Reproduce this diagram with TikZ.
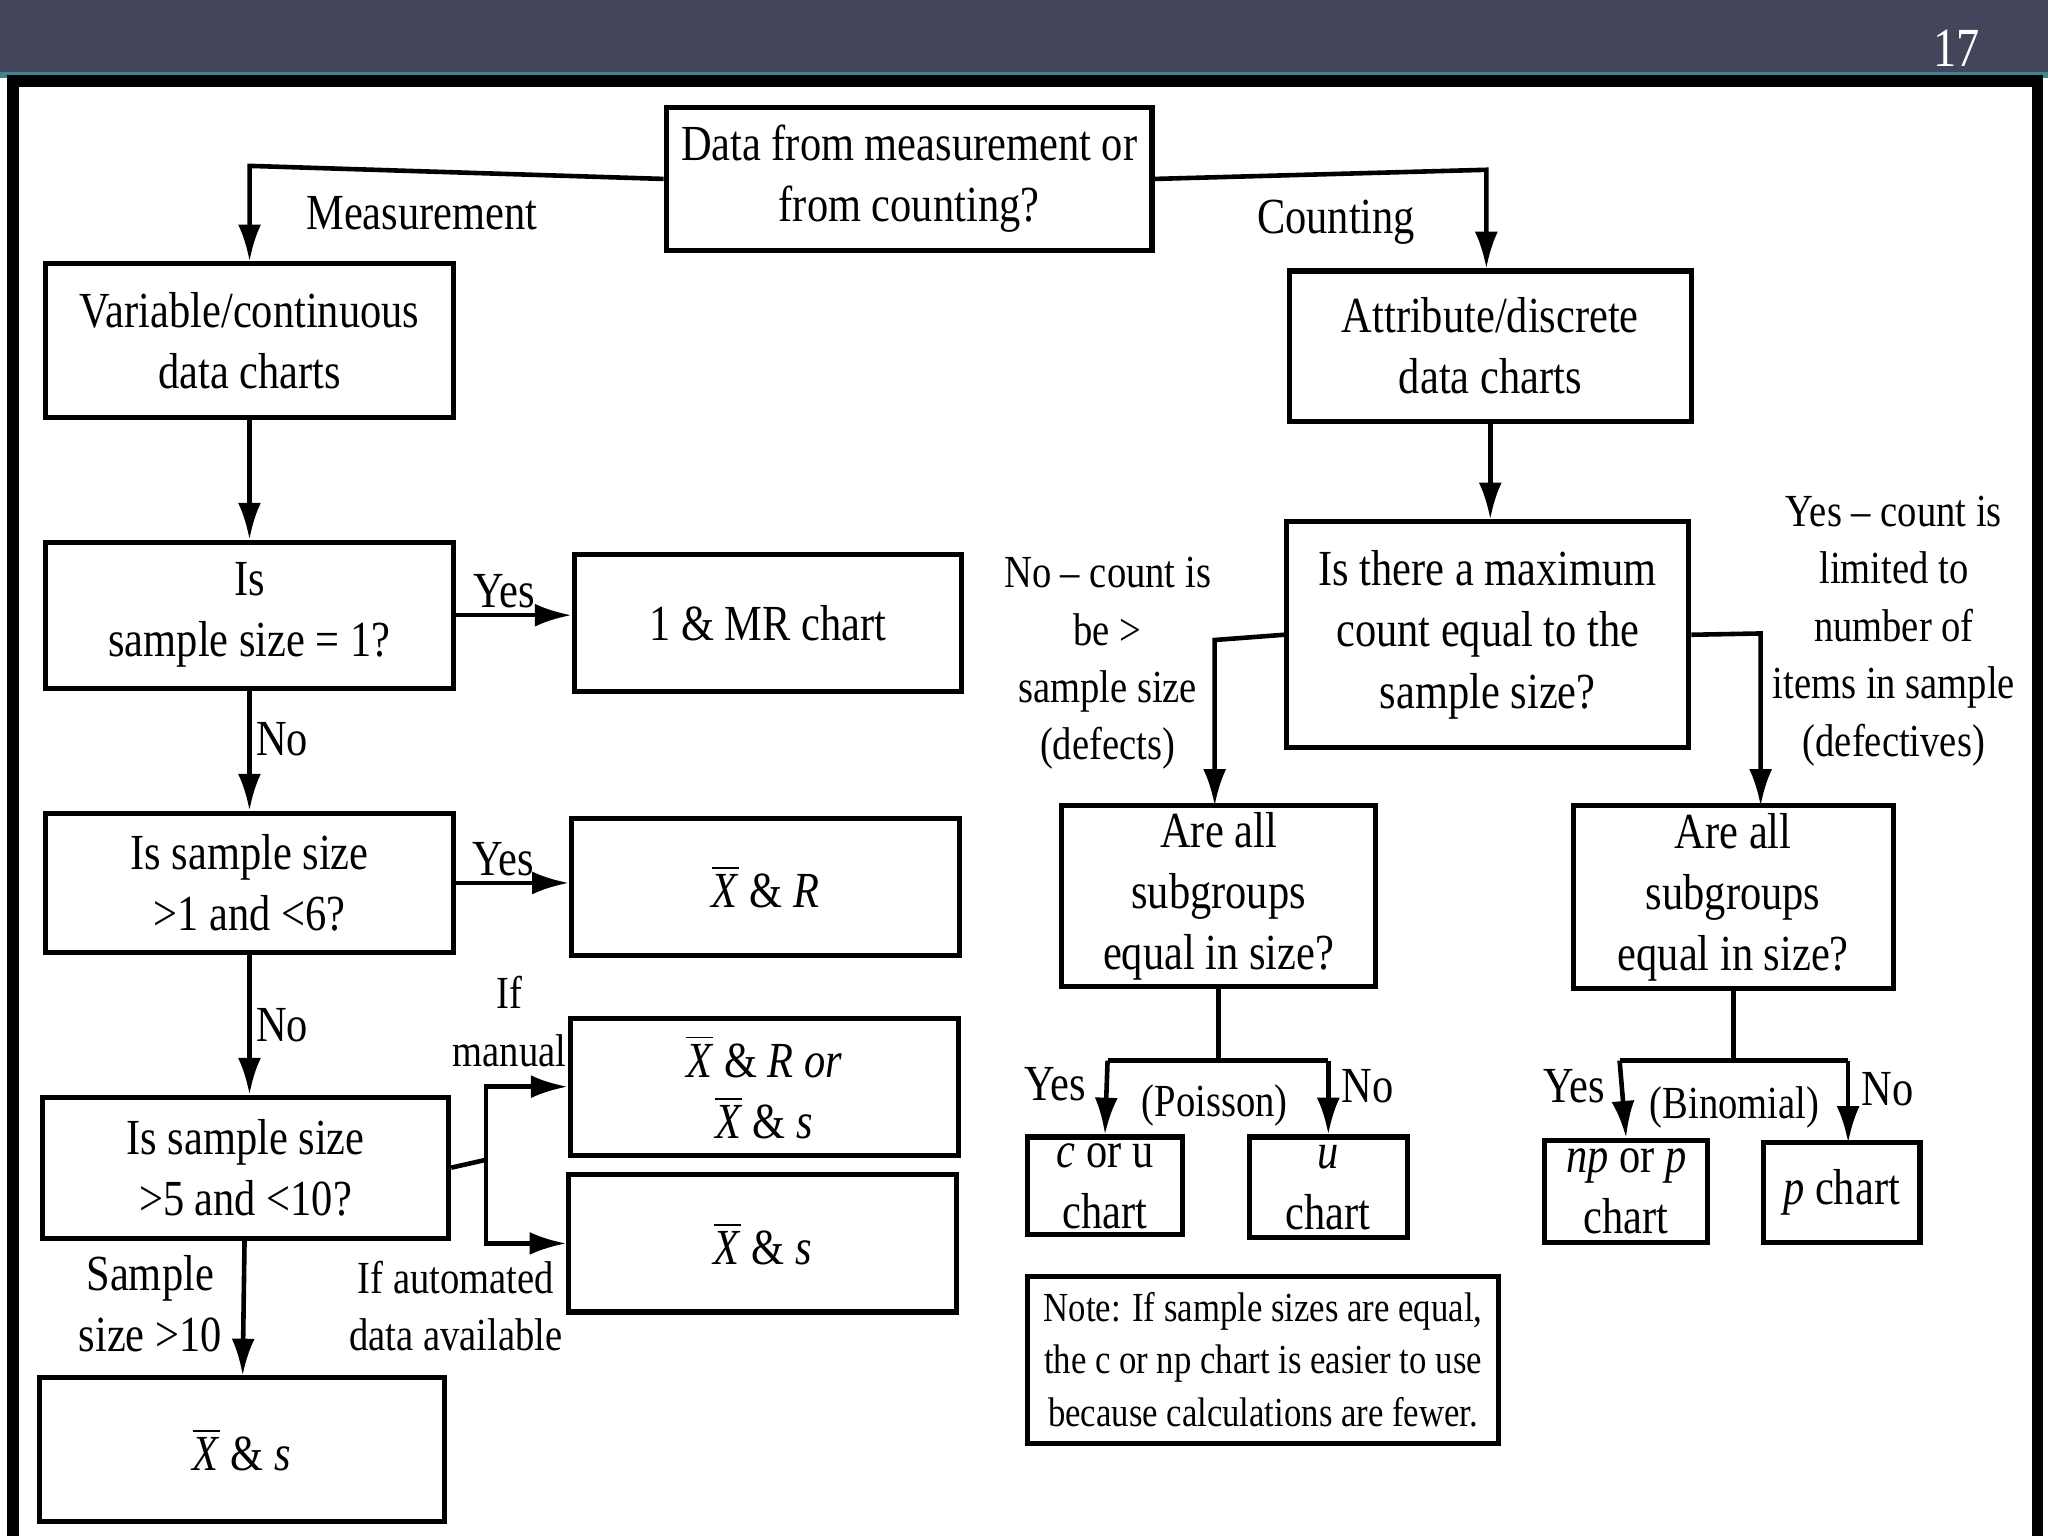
\documentclass[tikz,border=0pt]{standalone}
\usepackage{fontspec}
\setmainfont{Liberation Serif}[FakeStretch=0.84]
\usetikzlibrary{arrows.meta}
\newcommand{\xb}{$\overline{\mbox{\textit{X}}}$}
\begin{document}
\begin{tikzpicture}[x=0.01cm,y=-0.01cm,
  every node/.style={font=\fontsize{11}{13.3}\selectfont},
  box/.style={draw,line width=1.1pt,align=center,inner sep=0pt},
  lab/.style={align=center,inner sep=1pt},
  ar/.style={line width=1pt,-{Latex[length=8pt,width=5pt]}},
  ln/.style={line width=1pt}]
\useasboundingbox (0,0) rectangle (1568,1176);
\fill[fill={rgb,255:red,67;green,70;blue,90}] (0,0) rectangle (1568,55);
\fill[fill={rgb,255:red,70;green,130;blue,140}] (0,55) rectangle (1568,60);
\node[text=white,font=\fontsize{12}{14}\selectfont] (pg) at (1498,37) {17};
\fill[white] (10,62) rectangle (1560,1176);
\draw[line width=2.5pt] (10,1176) -- (10,62) -- (1560,62) -- (1560,1176);
\newcommand{\bx}[6]{\node[box,minimum width=#4*0.01cm,minimum height=#5*0.01cm] (#1) at (#2,#3) {#6};}
\bx{top}{696}{137}{372}{109}{Data from measurement or\\from counting?}
\bx{var}{191}{261}{312}{118}{Variable/continuous\\data charts}
\bx{attr}{1141}{265}{308}{115}{Attribute/discrete\\data charts}
\bx{is1}{191}{471}{312}{112}{Is\\sample size = 1?}
\bx{mr}{588}{477}{297}{105}{1 \& MR chart}
\bx{is2}{191}{676}{312}{107}{Is sample size\\>1 and <6?}
\bx{xr}{586}{679}{297}{105}{\xb\ \& \textit{R}}
\bx{is3}{188}{894}{311}{108}{Is sample size\\>5 and <10?}
\bx{xrs}{585}{832}{297}{105}{\xb\ \& \textit{R or}\\\xb\ \& \textit{s}}
\bx{xs1}{584}{952}{297}{105}{\xb\ \& \textit{s}}
\bx{xs2}{185}{1110}{310}{110}{\xb\ \& \textit{s}}
\bx{max}{1139}{486}{308}{173}{Is there a maximum\\count equal to the\\sample size?}
\bx{sub1}{933}{686}{240}{138}{Are all\\subgroups\\equal in size?}
\bx{sub2}{1327}{687}{245}{140}{Are all\\subgroups\\equal in size?}
\bx{cu}{846}{908}{119}{75}{\textit{c} or u\\chart}
\bx{u}{1017}{909}{121}{77}{\textit{u}\\chart}
\bx{np}{1245}{912}{125}{78}{\textit{np} or \textit{p}\\chart}
\bx{p}{1410}{913}{120}{76}{\textit{p} chart}
\node[box,minimum width=3.61cm,minimum height=1.28cm,font=\fontsize{9}{11.5}\selectfont] (note) at (967,1041) {Note: If sample sizes are equal,\\the c or np chart is easier to use\\because calculations are fewer.};
\draw[ar] (top.west) -- ++(-317,-10) coordinate (c1) -- (c1 |- var.north);
\draw[ar] (top.east) -- (1138,130) coordinate (c2) -- (c2 |- attr.north);
\node[lab] (lm) at (323,163) {Measurement};
\node[lab] (lc) at (1023,170) {Counting};
\draw[ar] (var) -- (is1);
\draw[ar] (is1) -- node[lab,above,pos=0.42] (y1) {Yes} (mr.west |- is1);
\draw[ar] (is1) -- node[lab,right,pos=0.4] (n1) {No} (is2);
\draw[ar] (is2) -- node[lab,above,pos=0.42] (y2) {Yes} (xr.west |- is2);
\draw[ar] (is2) -- node[lab,right,pos=0.5] (n2) {No} (is3.north -| is2);
\draw[ln] (is3.east) -- (372,888) coordinate (c3);
\draw[ar] (c3) |- (xrs.west);
\draw[ar] (c3) |- (xs1.west);
\node[lab,font=\fontsize{10}{12.5}\selectfont] (im) at (390,782) {If\\manual};
\node[lab,font=\fontsize{10}{12.5}\selectfont] (ia) at (349,1000) {If automated\\data available};
\draw[ar] (is3) -- (xs2);
\node[lab] (sz) at (115,998) {Sample\\size >10};
\draw[ar] (attr) -- (max.north -| attr);
\draw[ar] (max.west) -- (930,490) -- (930,617);
\draw[ar] (max.east) -- (1348,485) -- (1348,617);
\node[lab,font=\fontsize{10}{12.5}\selectfont] (ld) at (848,508) {No -- count is\\be >\\sample size\\(defects)};
\node[lab,font=\fontsize{10}{12.5}\selectfont] (lr) at (1450,483) {Yes -- count is\\limited to\\number of\\items in sample\\(defectives)};
\draw[ln] (sub1.south) -- (933,812) coordinate (c4);
\draw[ar] (848,812) -- (cu.north);
\draw[ar] (1017,812) -- (u.north);
\draw[ln] (848,812) -- (1017,812);
\node[lab] (ys1) at (808,830) {Yes};
\node[lab] (ns1) at (1047,832) {No};
\node[lab,font=\fontsize{10}{12.5}\selectfont] (po) at (930,846) {(Poisson)};
\draw[ln] (sub2.south) -- (1327,812);
\draw[ln] (1240,812) -- (1415,812);
\draw[ar] (1240,812) -- (np.north);
\draw[ar] (1415,812) -- (1415,875);
\node[lab] (ys2) at (1205,832) {Yes};
\node[lab] (ns2) at (1445,834) {No};
\node[lab,font=\fontsize{10}{12.5}\selectfont] (bi) at (1328,848) {(Binomial)};
\end{tikzpicture}
\end{document}
